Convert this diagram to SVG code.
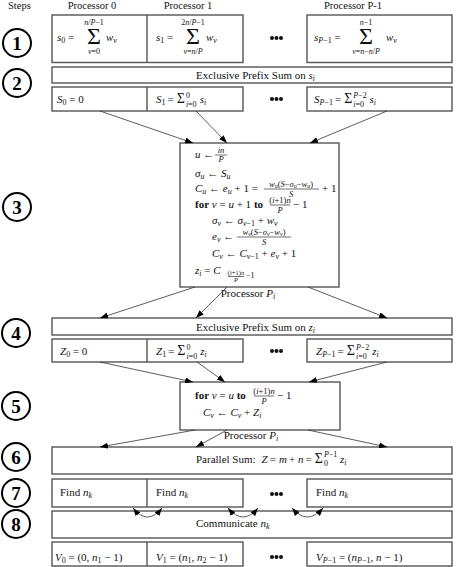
<svg xmlns="http://www.w3.org/2000/svg" width="474" height="567" viewBox="0 0 474 567">
<defs>
<style>
.bg{fill:#fff}
.box{fill:#fff;stroke:#555;stroke-width:1.4}
.div{stroke:#555;stroke-width:1.4}
.t{font-family:"Liberation Serif","DejaVu Serif",serif;font-size:11px;fill:#111}
.h{font-size:10.5px}
.i{font-style:italic}
.b{font-weight:bold}
.s{font-size:8px}
.f{font-size:8.5px}
.fs{font-size:6px}
.ff{font-size:6.5px}
.m{text-anchor:middle}
.sig{font-size:24px}
.sig2{font-size:14px}
.circ{fill:#fff;stroke:#000;stroke-width:2}
.num{font-family:"Liberation Serif","DejaVu Serif",serif;font-size:19px;font-weight:bold;text-anchor:middle;fill:#000}
.fb{stroke:#111;stroke-width:0.6}
.e{stroke:#333;stroke-width:0.8;fill:none;marker-end:url(#ah)}
.arc{stroke:#333;stroke-width:0.8;fill:none;marker-start:url(#ah);marker-end:url(#ah)}
.dot{fill:#111}
</style>
<marker id="ah" markerUnits="userSpaceOnUse" markerWidth="8" markerHeight="6" refX="8" refY="3" orient="auto-start-reverse">
<path d="M0,0 L8,3 L0,6 z" fill="#000"/>
</marker>
</defs>
<rect class="bg" x="0" y="0" width="474" height="567"/>

<g id="headings">
<text class="t h" x="8" y="9">Steps</text>
<text class="t h m" x="92" y="9">Processor 0</text>
<text class="t h m" x="188" y="9">Processor 1</text>
<text class="t h m" x="353" y="9">Processor P-1</text>
</g>

<g id="step-labels">
<circle class="circ" cx="17" cy="43" r="14"/><text class="num" x="17" y="50">1</text>
<circle class="circ" cx="17" cy="83" r="14"/><text class="num" x="17" y="90">2</text>
<circle class="circ" cx="17" cy="207" r="14"/><text class="num" x="17" y="214">3</text>
<circle class="circ" cx="16" cy="333" r="14"/><text class="num" x="16" y="340">4</text>
<circle class="circ" cx="16" cy="406" r="14"/><text class="num" x="16" y="413">5</text>
<circle class="circ" cx="16" cy="457" r="14"/><text class="num" x="16" y="464">6</text>
<circle class="circ" cx="16" cy="493" r="14"/><text class="num" x="16" y="500">7</text>
<circle class="circ" cx="16" cy="524" r="14"/><text class="num" x="16" y="531">8</text>
</g>

<g id="step1">
<rect class="box" x="52" y="15" width="191" height="47.5"/>
<line class="div" x1="147" y1="15" x2="147" y2="62.5"/>
<rect class="box" x="307" y="15" width="145" height="47.5"/>
<text class="t" x="57" y="41"><tspan class="i">s</tspan><tspan class="s" dy="2">0</tspan><tspan dy="-2"> =</tspan></text>
<text class="t sig m" x="94" y="44">Σ</text>
<text class="t s m" x="94" y="25"><tspan class="i">n</tspan>/<tspan class="i">P</tspan>−1</text>
<text class="t s m" x="94" y="54"><tspan class="i">v</tspan>=0</text>
<text class="t" x="106" y="41"><tspan class="i">w</tspan><tspan class="s i" dy="2">v</tspan></text>

<text class="t" x="156" y="41"><tspan class="i">s</tspan><tspan class="s" dy="2">1</tspan><tspan dy="-2"> =</tspan></text>
<text class="t sig m" x="193" y="44">Σ</text>
<text class="t s m" x="193" y="25">2<tspan class="i">n</tspan>/<tspan class="i">P</tspan>−1</text>
<text class="t s m" x="193" y="54"><tspan class="i">v</tspan>=<tspan class="i">n</tspan>/<tspan class="i">P</tspan></text>
<text class="t" x="206" y="41"><tspan class="i">w</tspan><tspan class="s i" dy="2">v</tspan></text>

<circle class="dot" cx="272" cy="38" r="2"/><circle class="dot" cx="276.5" cy="38" r="2"/><circle class="dot" cx="281" cy="38" r="2"/>

<text class="t" x="314" y="41"><tspan class="i">s</tspan><tspan class="s" dy="2"><tspan class="i">P</tspan>−1</tspan><tspan dy="-2"> =</tspan></text>
<text class="t sig m" x="366" y="44">Σ</text>
<text class="t s m" x="366" y="25"><tspan class="i">n</tspan>−1</text>
<text class="t s m" x="366" y="54"><tspan class="i">v</tspan>=<tspan class="i">n</tspan>−<tspan class="i">n</tspan>/<tspan class="i">P</tspan></text>
<text class="t" x="386" y="41"><tspan class="i">w</tspan><tspan class="s i" dy="2">v</tspan></text>
</g>

<g id="step2-bar">
<rect class="box" x="52" y="67" width="400" height="16"/>
<text class="t" x="196" y="79">Exclusive Prefix Sum on <tspan class="i">s</tspan><tspan class="s i" dy="2">i</tspan></text>
</g>

<g id="step2-row">
<rect class="box" x="52" y="87" width="191" height="24"/>
<line class="div" x1="147" y1="87" x2="147" y2="111"/>
<rect class="box" x="307" y="87" width="145" height="24"/>
<text class="t" x="57" y="103"><tspan class="i">S</tspan><tspan class="s" dy="2">0</tspan><tspan dy="-2"> = 0</tspan></text>
<text class="t" x="156" y="103"><tspan class="i">S</tspan><tspan class="s" dy="2">1</tspan><tspan dy="-2" dx="2">=</tspan><tspan dx="3" class="sig2">Σ</tspan><tspan class="s" dx="1" dy="-5">0</tspan><tspan class="s" dx="-4" dy="9"><tspan class="i">i</tspan>=0</tspan><tspan class="i" dx="3" dy="-4">s</tspan><tspan class="s i" dy="2">i</tspan></text>
<circle class="dot" cx="272" cy="99" r="2"/><circle class="dot" cx="276.5" cy="99" r="2"/><circle class="dot" cx="281" cy="99" r="2"/>
<text class="t" x="314" y="103"><tspan class="i">S</tspan><tspan class="s" dy="2"><tspan class="i">P</tspan>−1</tspan><tspan dy="-2" dx="2">=</tspan><tspan dx="3" class="sig2">Σ</tspan><tspan class="s" dx="1" dy="-5"><tspan class="i">P</tspan>−2</tspan><tspan class="s" dx="-13.4" dy="9"><tspan class="i">i</tspan>=0</tspan><tspan class="i" dx="5.5" dy="-4">s</tspan><tspan class="s i" dy="2">i</tspan></text>
</g>

<g id="step3">
<rect class="box" x="180" y="143" width="159" height="144"/>
<text class="t" x="195" y="158"><tspan class="i">u</tspan> ←</text>
<text class="t f m i" x="221" y="153">in</text><line class="fb" x1="215" y1="155" x2="227" y2="155"/><text class="t f m i" x="221" y="162">P</text>

<text class="t" x="195" y="177"><tspan class="i">σ</tspan><tspan class="s i" dy="2">u</tspan><tspan dy="-2"> ← </tspan><tspan class="i">S</tspan><tspan class="s i" dy="2">u</tspan></text>

<text class="t" x="195" y="192"><tspan class="i">C</tspan><tspan class="s i" dy="2">u</tspan><tspan dy="-2"> ← </tspan><tspan class="i">e</tspan><tspan class="s i" dy="2">u</tspan><tspan dy="-2"> + 1 =</tspan></text>
<text class="t f m" x="291" y="187"><tspan class="i">w</tspan><tspan class="i fs" dy="1">u</tspan><tspan dy="-1">(</tspan><tspan class="i">S</tspan>−<tspan class="i">σ</tspan><tspan class="i fs" dy="1">u</tspan><tspan dy="-1">−</tspan><tspan class="i">w</tspan><tspan class="i fs" dy="1">u</tspan><tspan dy="-1">)</tspan></text>
<line class="fb" x1="264" y1="189" x2="319" y2="189"/>
<text class="t f m i" x="291" y="197">S</text>
<text class="t" x="322" y="192">+ 1</text>

<text class="t" x="195" y="208"><tspan class="b">for</tspan> <tspan class="i">v</tspan> = <tspan class="i">u</tspan> + 1 <tspan class="b">to</tspan></text>
<text class="t f m" x="280" y="203">(<tspan class="i">i</tspan>+1)<tspan class="i">n</tspan></text>
<line class="fb" x1="270" y1="205" x2="290" y2="205"/>
<text class="t f m i" x="280" y="213">P</text>
<text class="t" x="293" y="208">− 1</text>

<text class="t" x="212" y="224"><tspan class="i">σ</tspan><tspan class="s i" dy="2">v</tspan><tspan dy="-2"> ← </tspan><tspan class="i">σ</tspan><tspan class="s" dy="2"><tspan class="i">v</tspan>−1</tspan><tspan dy="-2"> + </tspan><tspan class="i">w</tspan><tspan class="s i" dy="2">v</tspan></text>

<text class="t" x="212" y="240"><tspan class="i">e</tspan><tspan class="s i" dy="2">v</tspan><tspan dy="-2"> ←</tspan></text>
<text class="t f m" x="264" y="235"><tspan class="i">w</tspan><tspan class="i fs" dy="1">v</tspan><tspan dy="-1">(</tspan><tspan class="i">S</tspan>−<tspan class="i">σ</tspan><tspan class="i fs" dy="1">v</tspan><tspan dy="-1">−</tspan><tspan class="i">w</tspan><tspan class="i fs" dy="1">v</tspan><tspan dy="-1">)</tspan></text>
<line class="fb" x1="237" y1="237" x2="291" y2="237"/>
<text class="t f m i" x="264" y="245">S</text>

<text class="t" x="212" y="257"><tspan class="i">C</tspan><tspan class="s i" dy="2">v</tspan><tspan dy="-2"> ← </tspan><tspan class="i">C</tspan><tspan class="s" dy="2"><tspan class="i">v</tspan>−1</tspan><tspan dy="-2"> + </tspan><tspan class="i">e</tspan><tspan class="s i" dy="2">v</tspan><tspan dy="-2"> + 1</tspan></text>

<text class="t" x="195" y="274"><tspan class="i">z</tspan><tspan class="s i" dy="2">i</tspan><tspan dy="-2"> = </tspan><tspan class="i">C</tspan></text>
<text class="t ff m" x="236" y="275">(<tspan class="i">i</tspan>+1)<tspan class="i">n</tspan></text>
<line class="fb" x1="228" y1="276.5" x2="244" y2="276.5"/>
<text class="t ff m i" x="236" y="282">P</text>
<text class="t s" x="246" y="278">−1</text>

<text class="t m" x="248" y="297">Processor <tspan class="i">P</tspan><tspan class="s i" dy="2">i</tspan></text>
</g>

<g id="step4-bar">
<rect class="box" x="52" y="318" width="400" height="17"/>
<text class="t" x="196" y="331">Exclusive Prefix Sum on <tspan class="i">z</tspan><tspan class="s i" dy="2">i</tspan></text>
</g>

<g id="step4-row">
<rect class="box" x="52" y="339" width="191" height="23"/>
<line class="div" x1="147" y1="339" x2="147" y2="362"/>
<rect class="box" x="307" y="339" width="145" height="23"/>
<text class="t" x="60" y="355"><tspan class="i">Z</tspan><tspan class="s" dy="2">0</tspan><tspan dy="-2"> = 0</tspan></text>
<text class="t" x="156" y="355"><tspan class="i">Z</tspan><tspan class="s" dy="2">1</tspan><tspan dy="-2" dx="2">=</tspan><tspan dx="3" class="sig2">Σ</tspan><tspan class="s" dx="1" dy="-5">0</tspan><tspan class="s" dx="-4" dy="9"><tspan class="i">i</tspan>=0</tspan><tspan class="i" dx="3" dy="-4">z</tspan><tspan class="s i" dy="2">i</tspan></text>
<circle class="dot" cx="272" cy="351" r="2"/><circle class="dot" cx="276.5" cy="351" r="2"/><circle class="dot" cx="281" cy="351" r="2"/>
<text class="t" x="316" y="355"><tspan class="i">Z</tspan><tspan class="s" dy="2"><tspan class="i">P</tspan>−1</tspan><tspan dy="-2" dx="2">=</tspan><tspan dx="3" class="sig2">Σ</tspan><tspan class="s" dx="1" dy="-5"><tspan class="i">P</tspan>−2</tspan><tspan class="s" dx="-13.4" dy="9"><tspan class="i">i</tspan>=0</tspan><tspan class="i" dx="5.5" dy="-4">z</tspan><tspan class="s i" dy="2">i</tspan></text>
</g>

<g id="step5">
<rect class="box" x="180" y="382" width="160" height="48"/>
<text class="t" x="195" y="399"><tspan class="b">for</tspan> <tspan class="i">v</tspan> = <tspan class="i">u</tspan> <tspan class="b">to</tspan></text>
<text class="t f m" x="264" y="394">(<tspan class="i">i</tspan>+1)<tspan class="i">n</tspan></text>
<line class="fb" x1="254" y1="396" x2="274" y2="396"/>
<text class="t f m i" x="264" y="404">P</text>
<text class="t" x="277" y="399">− 1</text>
<text class="t" x="203" y="416"><tspan class="i">C</tspan><tspan class="s i" dy="2">v</tspan><tspan dy="-2"> ← </tspan><tspan class="i">C</tspan><tspan class="s i" dy="2">v</tspan><tspan dy="-2"> + </tspan><tspan class="i">Z</tspan><tspan class="s i" dy="2">i</tspan></text>
<text class="t m" x="251" y="439">Processor <tspan class="i">P</tspan><tspan class="s i" dy="2">i</tspan></text>
</g>

<g id="step6">
<rect class="box" x="52" y="447" width="400" height="27"/>
<text class="t" x="196" y="463">Parallel Sum:<tspan class="i" dx="6">Z</tspan><tspan dx="2">=</tspan><tspan class="i" dx="3">m</tspan><tspan dx="2">+</tspan><tspan class="i" dx="3">n</tspan><tspan dx="2">=</tspan><tspan dx="3" class="sig2">Σ</tspan><tspan class="s" dx="1" dy="-6"><tspan class="i">P</tspan>−1</tspan><tspan class="s" dx="-13.4" dy="9">0</tspan><tspan class="i" dx="12" dy="-3">z</tspan><tspan class="s i" dy="2">i</tspan></text>
</g>

<g id="step7">
<rect class="box" x="52" y="479" width="191" height="28"/>
<line class="div" x1="147" y1="479" x2="147" y2="507"/>
<rect class="box" x="307" y="479" width="145" height="28"/>
<text class="t" x="60" y="496">Find <tspan class="i">n</tspan><tspan class="s i" dy="2">k</tspan></text>
<text class="t" x="156" y="496">Find <tspan class="i">n</tspan><tspan class="s i" dy="2">k</tspan></text>
<circle class="dot" cx="272" cy="494" r="2"/><circle class="dot" cx="276.5" cy="494" r="2"/><circle class="dot" cx="281" cy="494" r="2"/>
<text class="t" x="316" y="496">Find <tspan class="i">n</tspan><tspan class="s i" dy="2">k</tspan></text>
</g>

<g id="step8">
<rect class="box" x="52" y="511" width="400" height="27"/>
<text class="t" x="196" y="527">Communicate <tspan class="i">n</tspan><tspan class="s i" dy="2">k</tspan></text>
</g>

<g id="result-row">
<rect class="box" x="52" y="542" width="191" height="24"/>
<line class="div" x1="147" y1="542" x2="147" y2="566"/>
<rect class="box" x="307" y="542" width="145" height="24"/>
<text class="t" x="55" y="561"><tspan class="i">V</tspan><tspan class="s" dy="2">0</tspan><tspan dy="-2"> = (0, </tspan><tspan class="i">n</tspan><tspan class="s" dy="2">1</tspan><tspan dy="-2"> − 1)</tspan></text>
<text class="t" x="156" y="561"><tspan class="i">V</tspan><tspan class="s" dy="2">1</tspan><tspan dy="-2"> = (</tspan><tspan class="i">n</tspan><tspan class="s" dy="2">1</tspan><tspan dy="-2">, </tspan><tspan class="i">n</tspan><tspan class="s" dy="2">2</tspan><tspan dy="-2"> − 1)</tspan></text>
<circle class="dot" cx="272" cy="557" r="2"/><circle class="dot" cx="276.5" cy="557" r="2"/><circle class="dot" cx="281" cy="557" r="2"/>
<text class="t" x="316" y="561"><tspan class="i">V</tspan><tspan class="s" dy="2"><tspan class="i">P</tspan>−1</tspan><tspan dy="-2"> = (</tspan><tspan class="i">n</tspan><tspan class="s" dy="2"><tspan class="i">P</tspan>−1</tspan><tspan dy="-2">, </tspan><tspan class="i">n</tspan> − 1)</text>
</g>

<g id="connectors">
<line class="e" x1="100" y1="111" x2="193" y2="143"/>
<line class="e" x1="196" y1="111" x2="227" y2="143"/>
<line class="e" x1="387" y1="111" x2="310" y2="143"/>
<line class="e" x1="195" y1="287" x2="100" y2="318"/>
<line class="e" x1="227" y1="287" x2="196" y2="318"/>
<line class="e" x1="308" y1="287" x2="387" y2="318"/>
<line class="e" x1="100" y1="362" x2="193" y2="382"/>
<line class="e" x1="197" y1="362" x2="225" y2="382"/>
<line class="e" x1="387" y1="362" x2="309" y2="382"/>
<line class="e" x1="195" y1="430" x2="100" y2="447"/>
<line class="e" x1="227" y1="430" x2="196" y2="447"/>
<line class="e" x1="308" y1="430" x2="387" y2="447"/>
<path class="arc" d="M133,508 Q147.5,526 162,508"/>
<path class="arc" d="M228,508 Q243,526 258,508"/>
<path class="arc" d="M292,508 Q307.5,526 323,508"/>
</g>
</svg>
